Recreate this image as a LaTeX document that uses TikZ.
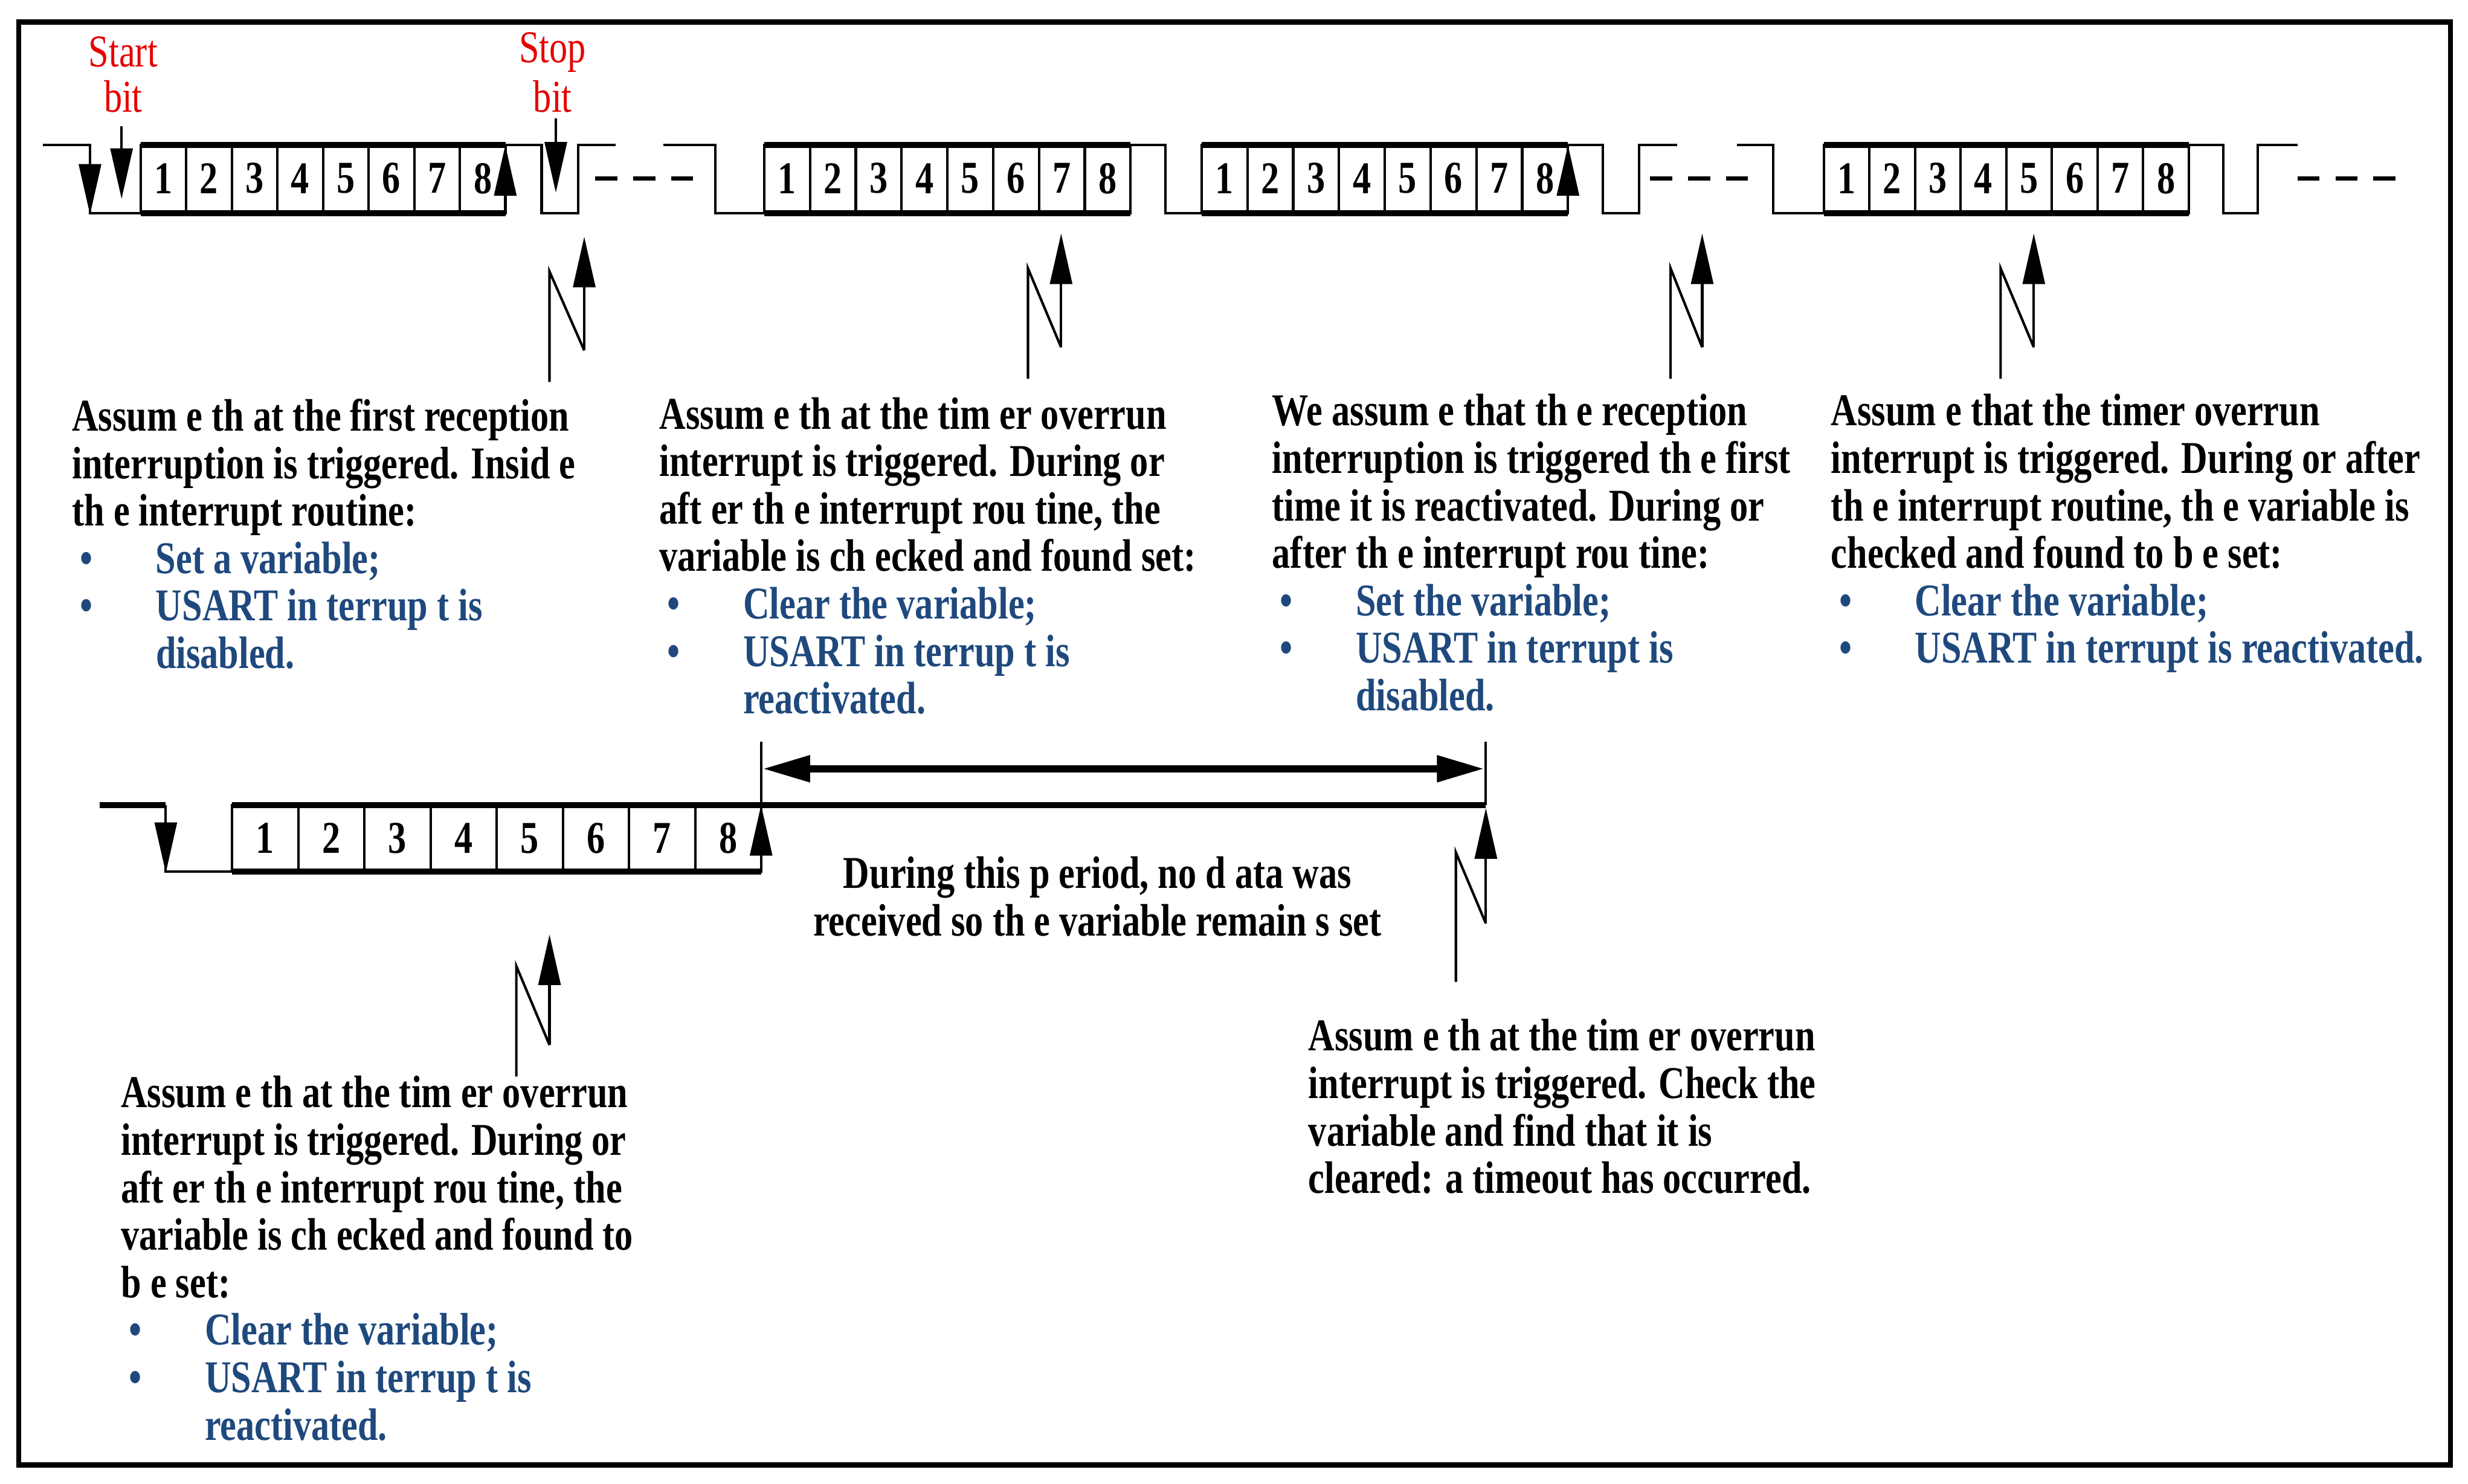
\documentclass[tikz,border=0pt]{standalone}
\usepackage{fontspec}
\setmainfont{Liberation Serif}[FakeStretch=0.8]
\usetikzlibrary{arrows.meta}
\definecolor{tblue}{RGB}{31,73,125}
\definecolor{tred}{RGB}{230,0,0}
\newcommand{\bul}{\makebox[0.53cm][l]{\hspace{0.05cm}\textbullet}}
\newcommand{\ind}{\hspace*{0.53cm}}
\begin{document}
\begin{tikzpicture}[x=0.01cm,y=-0.01cm,
  wave/.style={line width=0.45pt},
  thick edge/.style={line width=1.1pt},
  head/.style={-{Triangle[length=0.32cm,width=0.14cm]}},
  txt/.style={anchor=north west,inner sep=0pt,align=left,font=\fontsize{8.2pt}{8.55pt}\selectfont\bfseries},
  lbl/.style={inner sep=0pt,text=tred,font=\fontsize{8.2pt}{8pt}\selectfont},
  cellnum/.style={inner sep=0pt,font=\fontsize{8.2pt}{8pt}\selectfont\bfseries}]
\useasboundingbox (0,0) rectangle (1563,940);
\draw[line width=0.9pt] (12,14) rectangle (1552,928);
% ---- top waveform
\def\hi{92}\def\lo{135}
\newcommand{\databox}[2]{% start x, cell width
  \foreach \i in {0,...,7}{\draw[wave] ({#1+\i*#2},\hi) rectangle ({#1+(\i+1)*#2},\lo);
    \node[cellnum] at ({#1+(\i+0.5)*#2},113) {\pgfmathparse{int(\i+1)}\pgfmathresult};}
  \draw[thick edge] (#1,\hi) -- ({#1+8*#2},\hi) (#1,\lo) -- ({#1+8*#2},\lo);}
\databox{89}{28.9}
\databox{484}{29}
\databox{761}{29}
\databox{1155}{28.9}
\draw[wave] (27,\hi) -- (57,\hi) -- (57,\lo) -- (89,\lo);
\draw[wave] (320,\hi) -- (343,\hi) -- (343,\lo) -- (366,\lo) -- (366,\hi) -- (390,\hi);
\draw[wave] (420,\hi) -- (453,\hi) -- (453,\lo) -- (484,\lo);
\draw[wave] (716,\hi) -- (738,\hi) -- (738,\lo) -- (761,\lo);
\draw[wave] (993,\hi) -- (1015,\hi) -- (1015,\lo) -- (1038,\lo) -- (1038,\hi) -- (1062,\hi);
\draw[wave] (1100,\hi) -- (1123,\hi) -- (1123,\lo) -- (1155,\lo);
\draw[wave] (1386,\hi) -- (1408,\hi) -- (1408,\lo) -- (1430,\lo) -- (1430,\hi) -- (1455,\hi);
\foreach \a/\b in {377/445,1045/1113,1455/1522}
  \draw[line width=0.7pt,dash pattern=on 0.14cm off 0.1cm] (\a,113) -- (\b,113);
% arrows on waveform
\draw[wave,head] (57,100) -- (57,136);
\draw[wave,head] (77,80) -- (77,126);
\draw[wave,head] (352,75) -- (352,122);
\draw[wave,head] (320,135) -- (320,92);
\draw[wave,head] (993,135) -- (993,92);
\node[lbl] at (78,33) {Start};
\node[lbl] at (78,61) {bit};
\node[lbl] at (350,33) {Stop};
\node[lbl] at (350,61) {bit};
% interrupt markers
\newcommand{\irq}[4]{% x1 x2 ybottom ytip
  \draw[wave] (#1,#3) -- (#1,{#3-70}) -- (#2,{#3-20});
  \draw[wave,head] (#2,{#3-20}) -- (#2,#4);}
\irq{348}{370}{242}{150}
\irq{651}{672}{240}{148}
\irq{1058}{1078}{240}{148}
\irq{1267}{1288}{240}{148}
% top texts
\node[txt] at (45,252) {Assum e th at the first reception\\interruption is triggered. Insid e\\th e interrupt routine:\\
  \color{tblue}\bul Set a variable;\\\color{tblue}\bul USART in terrup t is\\\color{tblue}\ind disabled.};
\node[txt] at (417,251) {Assum e th at the tim er overrun\\interrupt is triggered. During or\\aft er th e interrupt rou tine, the\\variable is ch ecked and found set:\\
  \color{tblue}\bul Clear the variable;\\\color{tblue}\bul USART in terrup t is\\\color{tblue}\ind reactivated.};
\node[txt] at (805,249) {We assum e that th e reception\\interruption is triggered th e first\\time it is reactivated. During or\\after th e interrupt rou tine:\\
  \color{tblue}\bul Set the variable;\\\color{tblue}\bul USART in terrupt is\\\color{tblue}\ind disabled.};
\node[txt] at (1159,249) {Assum e that the timer overrun\\interrupt is triggered. During or after\\th e interrupt routine, th e variable is\\checked and found to b e set:\\
  \color{tblue}\bul Clear the variable;\\\color{tblue}\bul USART in terrupt is reactivated.};
% ---- bottom waveform
\def\bhi{510}\def\blo{552}
\foreach \i in {0,...,7}{\draw[wave] ({147+\i*41.9},\bhi) rectangle ({147+(\i+1)*41.9},\blo);
  \node[cellnum] at ({147+(\i+0.5)*41.9},531) {\pgfmathparse{int(\i+1)}\pgfmathresult};}
\draw[thick edge] (147,\bhi) -- (941,\bhi) (147,\blo) -- (482,\blo);
\draw[thick edge] (63,\bhi) -- (105,\bhi);
\draw[wave] (105,\bhi) -- (105,\blo) -- (147,\blo);
\draw[wave,head] (105,515) -- (105,553);
\draw[wave,head] (482,552) -- (482,510);
\draw[wave] (482,470) -- (482,510) (941,470) -- (941,510);
\draw[line width=1.3pt,{Triangle[length=0.3cm,width=0.16cm]}-{Triangle[length=0.3cm,width=0.16cm]}] (483,487) -- (940,487);
\draw[wave] (922,622) -- (922,540) -- (941,585);
\draw[wave,head] (941,585) -- (941,512);
\irq{327}{348}{682}{592}
\node[txt,anchor=north,align=center] at (695,542) {During this p eriod, no d ata was\\received so th e variable remain s set};
\node[txt] at (76,681) {Assum e th at the tim er overrun\\interrupt is triggered. During or\\aft er th e interrupt rou tine, the\\variable is ch ecked and found to\\b e set:\\
  \color{tblue}\bul Clear the variable;\\\color{tblue}\bul USART in terrup t is\\\color{tblue}\ind reactivated.};
\node[txt] at (828,645) {Assum e th at the tim er overrun\\interrupt is triggered. Check the\\variable and find that it is\\cleared: a timeout has occurred.};
\end{tikzpicture}
\end{document}
